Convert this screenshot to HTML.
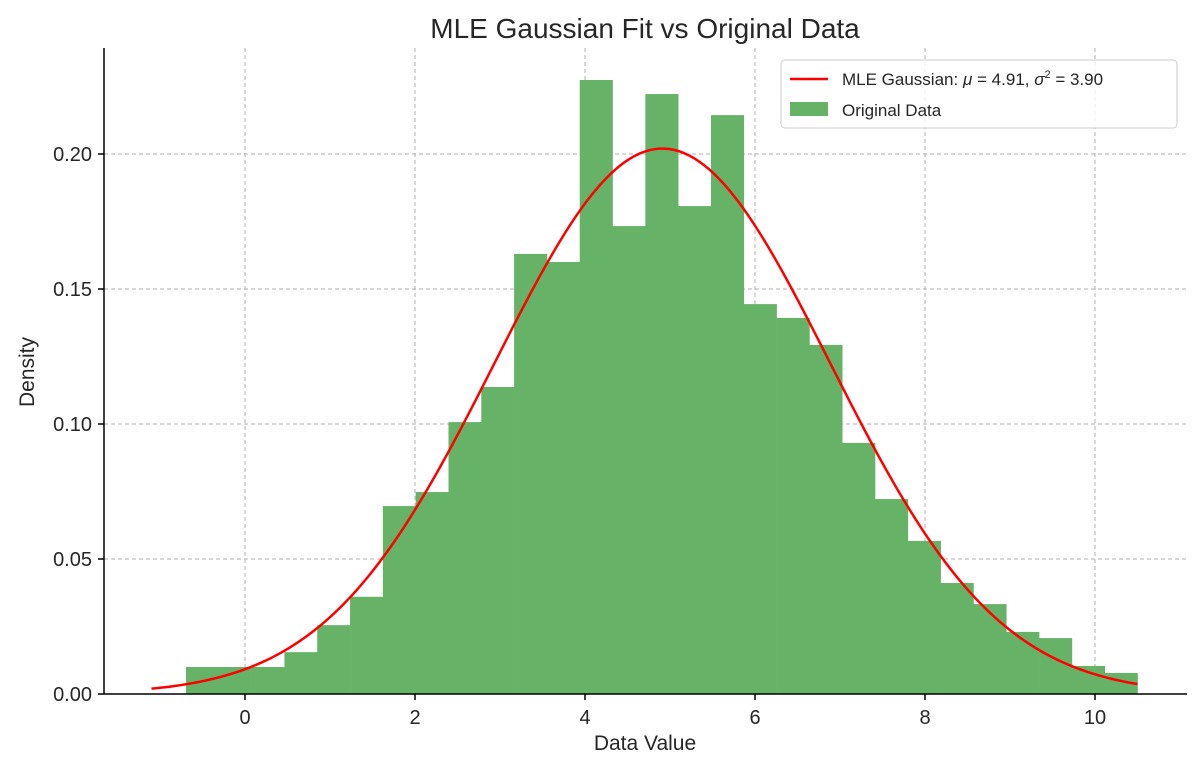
<!DOCTYPE html>
<html><head><meta charset="utf-8">
<style>
body{margin:0;background:#fff;}
svg{display:block;font-family:"Liberation Sans","DejaVu Sans",sans-serif;}
</style></head>
<body>
<svg id="chart" width="1200" height="769" viewBox="0 0 1200 769">
<text x="645" y="38" font-size="28" text-anchor="middle" fill="#262626">MLE Gaussian Fit vs Original Data</text>
<g id="grid"></g>
<g id="bars"></g>
<g id="curve"></g>
<g id="axes"></g>
<text x="645" y="750" font-size="21" text-anchor="middle" fill="#262626">Data Value</text>
<text transform="translate(34,372) rotate(-90)" font-size="21" text-anchor="middle" fill="#262626">Density</text>
<g>
<rect x="781" y="60" width="396" height="68" rx="4" fill="#fff" fill-opacity="0.8" stroke="#cccccc"/>
<line x1="790" y1="79" x2="828" y2="79" stroke="#ff0000" stroke-width="2.5"/>
<text x="842" y="85" font-size="17" fill="#262626">MLE Gaussian: <tspan font-style="italic">μ</tspan> = 4.91, <tspan font-style="italic">σ</tspan><tspan font-size="11" dy="-7">2</tspan><tspan dy="7"> = 3.90</tspan></text>
<rect x="790" y="102" width="38" height="14" fill="#66b266"/>
<text x="842" y="116" font-size="17" fill="#262626">Original Data</text>
</g>
</svg>
<script>
const binStart = -0.694;
const binWidth = 0.386;
const densities = [0.010,0.010,0.010,0.0155,0.0255,0.036,0.0696,0.0748,0.1007,0.1137,0.163,0.160,0.2274,0.1733,0.2222,0.1807,0.2144,0.1444,0.1393,0.1293,0.093,0.0722,0.0567,0.0411,0.0333,0.023,0.0207,0.0104,0.0078];
const xTicks = [0,2,4,6,8,10];
const yTicks = [0,0.05,0.10,0.15,0.20];
const yTickLabels = ["0.00","0.05","0.10","0.15","0.20"];
const mu = 4.91;
const sigma2 = 3.90;
const curveRange = [-1.1, 10.5];

const NS = "http://www.w3.org/2000/svg";
const X = v => 245 + v * 85;
const Y = v => 694 - v * 2700;
function mk(tag, attrs, parent){const e=document.createElementNS(NS,tag);for(const k in attrs)e.setAttribute(k,attrs[k]);parent.appendChild(e);return e;}
const grid=document.getElementById('grid'),bars=document.getElementById('bars'),curve=document.getElementById('curve'),axes=document.getElementById('axes');

xTicks.forEach(t=>{
  const l=mk('line',{x1:X(t),x2:X(t),y1:48,y2:694,stroke:'#b0b0b0','stroke-width':1,'stroke-dasharray':'4,3'},grid);
  
  
  const tk=mk('line',{x1:X(t),x2:X(t),y1:694,y2:700,stroke:'#000','stroke-width':1.5},axes);
  
  
  const tx=mk('text',{x:X(t),y:724,'font-size':20,'text-anchor':'middle',fill:'#262626'},axes);
  tx.textContent=t;
  
  
});
yTicks.forEach((t,i)=>{
  const l=mk('line',{x1:104,x2:1187,y1:Y(t),y2:Y(t),stroke:'#b0b0b0','stroke-width':1,'stroke-dasharray':'4,3'},grid);
  
  
  const tk=mk('line',{x1:98,x2:104,y1:Y(t),y2:Y(t),stroke:'#000','stroke-width':1.5},axes);
  
  
  const tx=mk('text',{x:92,y:Y(t)+7,'font-size':20,'text-anchor':'end',fill:'#262626'},axes);
  tx.textContent=yTickLabels[i];
  
  
});
densities.forEach((d,i)=>{
  const x0=X(binStart+i*binWidth),x1=X(binStart+(i+1)*binWidth);
  const r=mk('rect',{x:x0,y:Y(d),width:x1-x0+0.3,height:Y(0)-Y(d),fill:'#66b266'},bars);
  
  
});
let pts=[];
for(let i=0;i<=200;i++){
  const x=curveRange[0]+(curveRange[1]-curveRange[0])*i/200;
  const y=Math.exp(-(x-mu)*(x-mu)/(2*sigma2))/Math.sqrt(2*Math.PI*sigma2);
  pts.push(X(x).toFixed(2)+','+Y(y).toFixed(2));
}
const pl=mk('polyline',{points:pts.join(' '),fill:'none',stroke:'#ff0000','stroke-width':2.5},curve);


const ax1=mk('line',{x1:104,x2:104,y1:48,y2:694,stroke:'#000','stroke-width':1.5},axes);


const ax2=mk('line',{x1:104,x2:1187,y1:694,y2:694,stroke:'#000','stroke-width':1.5},axes);


</script>
</body></html>
